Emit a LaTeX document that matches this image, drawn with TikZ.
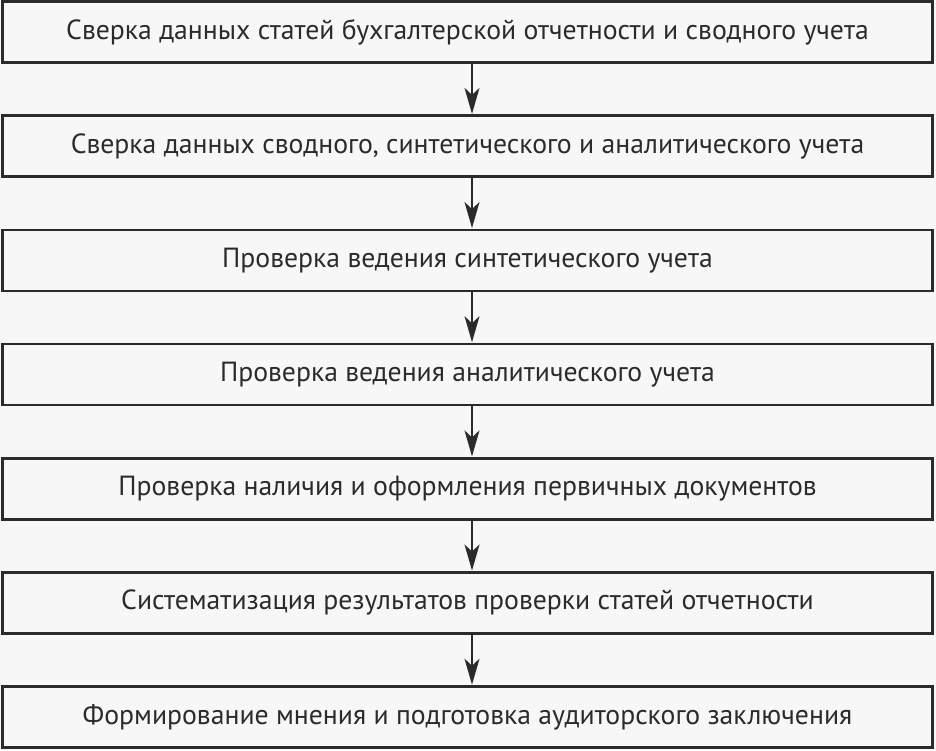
\documentclass[tikz,border=0pt]{standalone}
\usepackage{fontspec}
\setmainfont{PT Sans}
\usetikzlibrary{arrows.meta}
\definecolor{bg}{HTML}{F7F7F7}
\definecolor{ink}{HTML}{2B2B2B}
\begin{document}
\begin{tikzpicture}[x=1pt,y=1pt,
  stage/.style={draw=ink, line width=2.6pt, fill=bg, minimum width=930pt, minimum height=61pt, inner sep=0pt, text=ink, font=\fontsize{27.7}{30}\selectfont},
  flow/.style={draw=ink, line width=1.8pt, -{Stealth[length=26pt,width=15pt,inset=7pt]}, shorten >=0.5pt}]
\fill[bg] (0,0) rectangle (936,-750);
\useasboundingbox (0,0) rectangle (936,-750);
\node[stage] (b1) at (467.5,-32) {Сверка данных статей бухгалтерской отчетности и сводного учета};
\node[stage] (b2) at (467.5,-146.2) {Сверка данных сводного, синтетического и аналитического учета};
\node[stage] (b3) at (467.5,-260.3) {Проверка ведения синтетического учета};
\node[stage] (b4) at (467.5,-374.5) {Проверка ведения аналитического учета};
\node[stage] (b5) at (467.5,-488.7) {Проверка наличия и оформления первичных документов};
\node[stage] (b6) at (467.5,-602.8) {Систематизация результатов проверки статей отчетности};
\node[stage] (b7) at (467.5,-717) {Формирование мнения и подготовка аудиторского заключения};
\foreach \a/\b in {b1/b2,b2/b3,b3/b4,b4/b5,b5/b6,b6/b7}
  \draw[flow] ([xshift=4.5pt]\a.south) -- ([xshift=4.5pt]\b.north);
\end{tikzpicture}
\end{document}
